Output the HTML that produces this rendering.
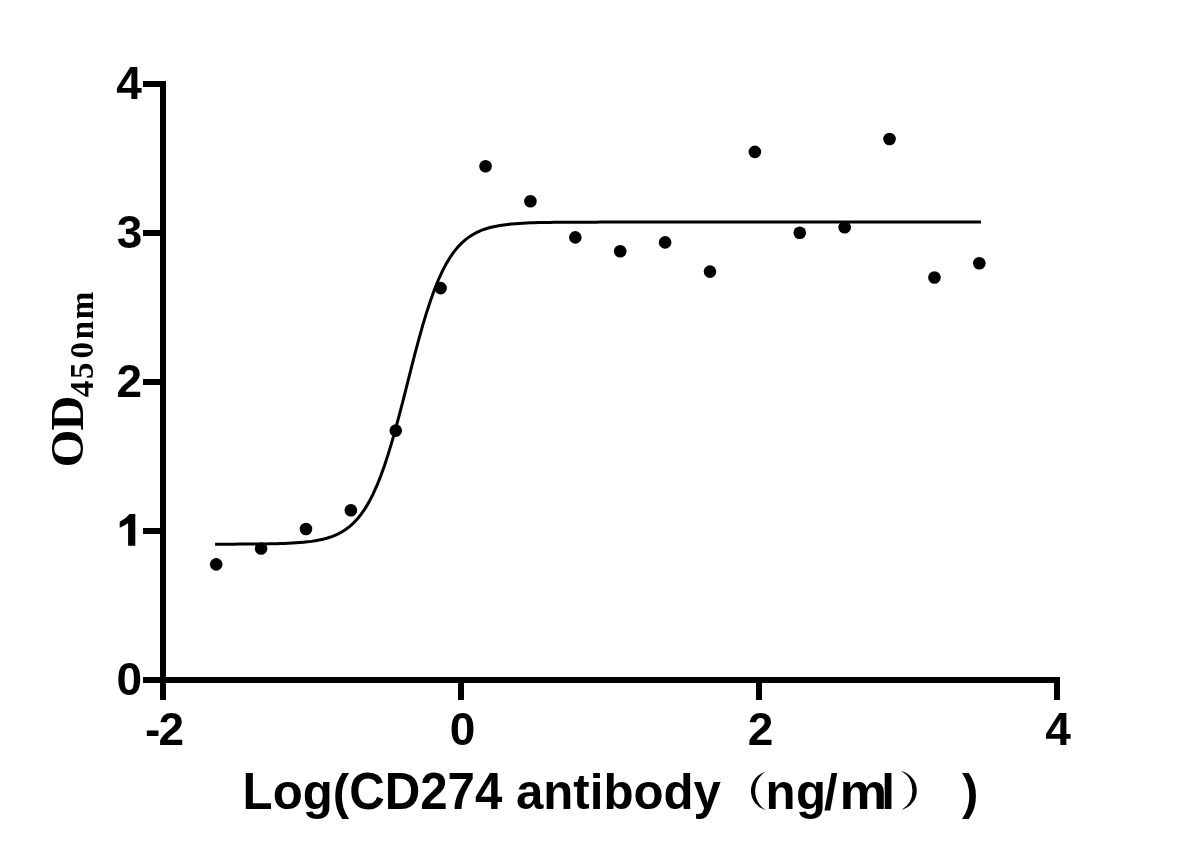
<!DOCTYPE html>
<html><head><meta charset="utf-8"><style>
html,body{margin:0;padding:0;background:#fff;width:1194px;height:863px;overflow:hidden}
svg{display:block;will-change:transform}
.t{font-family:"Liberation Sans",sans-serif;font-weight:bold;fill:#000}
.s{font-family:"Liberation Serif",serif;font-weight:bold;fill:#000}
</style></head><body>
<svg width="1194" height="863" viewBox="0 0 1194 863">
<rect width="1194" height="863" fill="#fff"/>
<g fill="#000">
<rect x="160" y="81" width="6" height="619"/>
<rect x="143" y="81" width="20" height="6"/>
<rect x="143" y="230" width="20" height="6"/>
<rect x="143" y="379" width="20" height="6"/>
<rect x="143" y="528" width="20" height="6"/>
<rect x="143" y="677" width="20" height="6"/>
<rect x="160" y="677" width="900" height="6"/>
<rect x="458" y="677" width="6" height="23"/>
<rect x="756" y="677" width="6" height="23"/>
<rect x="1054" y="677" width="6" height="23"/>
</g>
<g class="t" font-size="46">
<text x="116.3" y="98.6">4</text>
<text x="116.8" y="248.0">3</text>
<text x="116.6" y="396.5">2</text>
<text x="116.6" y="694.5">0</text>
<text x="144.9" y="744.6">-</text><text x="158.6" y="744.6">2</text>
<text x="449.7" y="744.6">0</text>
<text x="747.7" y="744.6">2</text>
<text x="1045.3" y="744.6">4</text>
</g>
<path d="M135.3,513.9 L135.3,545.8 L128.1,545.8 L128.1,523.3 Q124,526 119.7,527.7 L119.7,521.8 Q126,518.5 129.6,513.9 Z" fill="#000"/>
<g class="t" font-size="49.2">
<text x="242.60" y="808.8" transform="translate(0,808.8) scale(1,1.045) translate(0,-808.8)">L</text>
<text x="272.65" y="808.8">og(</text>
<text x="349.14" y="808.8" transform="translate(0,808.8) scale(1,1.04) translate(0,-808.8)">CD274</text>
<text x="502.29" y="808.8" xml:space="preserve"> antibody</text>
</g>
<g class="t" font-size="49.2">
<text x="765.4" y="808.8">n</text>
<text x="795.9" y="808.8">g</text>
<text x="824.0" y="808.8">/</text>
<text x="839.8" y="808.8" transform="translate(843,0) scale(1.09,1) translate(-843,0)">m</text>
<text x="881.2" y="808.8">l</text>
<text x="961.95" y="809.3">)</text>
</g>
<path d="M765.4,771.8 A19.86,19.86 0 0 0 765.7,810.1 A22.83,22.83 0 0 1 765.4,771.8 Z" fill="#000"/>
<path d="M901,771.1 A19.86,19.86 0 0 1 901.3,809.9 A22.3,22.3 0 0 0 901,771.1 Z" fill="#000"/>
<g transform="translate(83.2,467.3) rotate(-90)">
<g transform="scale(1.03,1)"><text class="s" font-size="47" y="0"><tspan x="0.1">O</tspan><tspan x="35.7">D</tspan></text></g>
<text class="s" font-size="33" y="9.9"><tspan x="70.15">4</tspan><tspan x="88.4">5</tspan><tspan x="108.7">0</tspan><tspan x="128.1">n</tspan><tspan x="148.0">m</tspan></text>
</g>
<path d="M215.10,544.17 L218.95,544.17 L222.80,544.16 L226.65,544.16 L230.49,544.15 L234.34,544.14 L238.19,544.12 L242.04,544.11 L245.89,544.09 L249.74,544.06 L253.59,544.03 L257.44,544.00 L261.28,543.96 L265.13,543.91 L268.98,543.85 L272.83,543.77 L276.68,543.68 L280.53,543.57 L284.38,543.44 L288.23,543.29 L292.07,543.10 L295.92,542.87 L299.77,542.59 L303.62,542.26 L307.47,541.86 L311.32,541.38 L315.17,540.79 L319.02,540.09 L322.86,539.25 L326.71,538.24 L330.56,537.03 L334.41,535.57 L338.26,533.83 L342.11,531.75 L345.96,529.28 L349.81,526.34 L353.65,522.87 L357.50,518.77 L361.35,513.97 L365.20,508.37 L369.05,501.89 L372.90,494.44 L376.75,485.94 L380.60,476.36 L384.44,465.67 L388.29,453.89 L392.14,441.10 L395.99,427.40 L399.84,412.98 L403.69,398.04 L407.54,382.84 L411.39,367.65 L415.23,352.73 L419.08,338.33 L422.93,324.67 L426.78,311.92 L430.63,300.18 L434.48,289.54 L438.33,280.00 L442.18,271.55 L446.02,264.13 L449.87,257.68 L453.72,252.12 L457.57,247.35 L461.42,243.28 L465.27,239.83 L469.12,236.91 L472.97,234.46 L476.81,232.39 L480.66,230.67 L484.51,229.22 L488.36,228.02 L492.21,227.01 L496.06,226.17 L499.91,225.48 L503.76,224.90 L507.60,224.42 L511.45,224.02 L515.30,223.69 L519.15,223.42 L523.00,223.19 L526.85,223.01 L530.70,222.85 L534.55,222.72 L538.39,222.61 L542.24,222.53 L546.09,222.45 L549.94,222.39 L553.79,222.34 L557.64,222.30 L561.49,222.27 L565.34,222.24 L569.18,222.21 L573.03,222.19 L576.88,222.18 L580.73,222.16 L584.58,222.15 L588.43,222.14 L592.28,222.14 L596.13,222.13 L599.97,222.12 L603.82,222.12 L607.67,222.12 L611.52,222.11 L615.37,222.11 L619.22,222.11 L623.07,222.11 L626.92,222.11 L630.76,222.11 L634.61,222.10 L638.46,222.10 L642.31,222.10 L646.16,222.10 L650.01,222.10 L653.86,222.10 L657.71,222.10 L661.55,222.10 L665.40,222.10 L669.25,222.10 L673.10,222.10 L676.95,222.10 L680.80,222.10 L684.65,222.10 L688.50,222.10 L692.34,222.10 L696.19,222.10 L700.04,222.10 L703.89,222.10 L707.74,222.10 L711.59,222.10 L715.44,222.10 L719.29,222.10 L723.13,222.10 L726.98,222.10 L730.83,222.10 L734.68,222.10 L738.53,222.10 L742.38,222.10 L746.23,222.10 L750.08,222.10 L753.92,222.10 L757.77,222.10 L761.62,222.10 L765.47,222.10 L769.32,222.10 L773.17,222.10 L777.02,222.10 L780.87,222.10 L784.71,222.10 L788.56,222.10 L792.41,222.10 L796.26,222.10 L800.11,222.10 L803.96,222.10 L807.81,222.10 L811.66,222.10 L815.50,222.10 L819.35,222.10 L823.20,222.10 L827.05,222.10 L830.90,222.10 L834.75,222.10 L838.60,222.10 L842.45,222.10 L846.29,222.10 L850.14,222.10 L853.99,222.10 L857.84,222.10 L861.69,222.10 L865.54,222.10 L869.39,222.10 L873.24,222.10 L877.08,222.10 L880.93,222.10 L884.78,222.10 L888.63,222.10 L892.48,222.10 L896.33,222.10 L900.18,222.10 L904.03,222.10 L907.87,222.10 L911.72,222.10 L915.57,222.10 L919.42,222.10 L923.27,222.10 L927.12,222.10 L930.97,222.10 L934.82,222.10 L938.66,222.10 L942.51,222.10 L946.36,222.10 L950.21,222.10 L954.06,222.10 L957.91,222.10 L961.76,222.10 L965.61,222.10 L969.45,222.10 L973.30,222.10 L977.15,222.10 L981.00,222.10" fill="none" stroke="#000" stroke-width="3" stroke-linejoin="round"/>
<g fill="#000">
<circle cx="216.20" cy="564.35" r="6.3"/>
<circle cx="261.09" cy="548.5" r="6.3"/>
<circle cx="305.98" cy="528.95" r="6.3"/>
<circle cx="350.87" cy="510.3" r="6.3"/>
<circle cx="395.76" cy="430.6" r="6.3"/>
<circle cx="440.65" cy="288.1" r="6.3"/>
<circle cx="485.54" cy="166.2" r="6.3"/>
<circle cx="530.43" cy="201.2" r="6.3"/>
<circle cx="575.32" cy="237.4" r="6.3"/>
<circle cx="620.21" cy="251.3" r="6.3"/>
<circle cx="665.10" cy="242.4" r="6.3"/>
<circle cx="709.99" cy="271.6" r="6.3"/>
<circle cx="754.88" cy="151.9" r="6.3"/>
<circle cx="799.77" cy="232.7" r="6.3"/>
<circle cx="844.66" cy="227.3" r="6.3"/>
<circle cx="889.55" cy="139.0" r="6.3"/>
<circle cx="934.44" cy="277.5" r="6.3"/>
<circle cx="979.33" cy="263.3" r="6.3"/>
</g>
</svg>
</body></html>
